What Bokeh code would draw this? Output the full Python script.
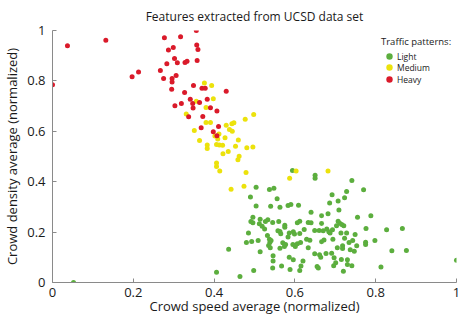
from bokeh.plotting import figure
from bokeh.models import Range1d, Legend, LegendItem, ColumnDataSource
from bokeh.embed import file_html
from bokeh.resources import INLINE

# Heavy traffic (red)
heavy_speed = [0.037, 0.132, 0.000, 0.356, 0.277, 0.317, 0.357, 0.360, 0.287, 0.299,
               0.302, 0.309, 0.283, 0.328, 0.333, 0.358, 0.267, 0.197, 0.213, 0.275,
               0.296, 0.296, 0.306, 0.295, 0.327, 0.349, 0.370, 0.378, 0.430, 0.341,
               0.383, 0.319, 0.303, 0.347, 0.364, 0.348, 0.391, 0.407, 0.337, 0.372,
               0.411, 0.368, 0.398, 0.407]
heavy_density = [0.939, 0.961, 0.785, 1.000, 0.971, 0.975, 0.942, 0.925, 0.923, 0.933,
                 0.889, 0.872, 0.868, 0.873, 0.878, 0.881, 0.841, 0.816, 0.835, 0.810,
                 0.810, 0.796, 0.821, 0.767, 0.754, 0.782, 0.771, 0.771, 0.759, 0.727,
                 0.727, 0.710, 0.701, 0.710, 0.714, 0.692, 0.693, 0.681, 0.658, 0.659,
                 0.619, 0.614, 0.598, 0.582]

# Medium traffic (yellow)
medium_speed = [0.376, 0.394, 0.398, 0.356, 0.380, 0.331, 0.380, 0.391, 0.351, 0.430,
                0.444, 0.449, 0.477, 0.498, 0.438, 0.445, 0.402, 0.412, 0.409, 0.427,
                0.364, 0.460, 0.383, 0.383, 0.406, 0.413, 0.421, 0.453, 0.481, 0.496,
                0.435, 0.422, 0.462, 0.459, 0.406, 0.406, 0.414, 0.479, 0.603, 0.587,
                0.442, 0.474, 0.682]
medium_density = [0.792, 0.782, 0.729, 0.719, 0.694, 0.669, 0.635, 0.635, 0.603, 0.624,
                  0.630, 0.634, 0.648, 0.667, 0.607, 0.600, 0.581, 0.589, 0.569, 0.574,
                  0.563, 0.565, 0.546, 0.532, 0.548, 0.546, 0.545, 0.541, 0.535, 0.538,
                  0.520, 0.511, 0.501, 0.487, 0.474, 0.460, 0.442, 0.437, 0.442, 0.414,
                  0.370, 0.382, 0.442]

# Light traffic (green)
light_speed = [0.594, 0.650, 0.650, 0.504, 0.537, 0.548, 0.490, 0.556, 0.504, 0.540,
               0.563, 0.583, 0.590, 0.609, 0.686, 0.640, 0.666, 0.682, 0.496, 0.514,
               0.491, 0.496, 0.512, 0.527, 0.533, 0.545, 0.560, 0.519, 0.525, 0.575,
               0.606, 0.612, 0.633, 0.640, 0.666, 0.575, 0.623, 0.649, 0.660, 0.670,
               0.679, 0.684, 0.485, 0.532, 0.558, 0.563, 0.565, 0.586, 0.596, 0.599,
               0.583, 0.612, 0.629, 0.637, 0.537, 0.541, 0.480, 0.493, 0.509, 0.538,
               0.570, 0.577, 0.595, 0.606, 0.614, 0.601, 0.666, 0.672, 0.436, 0.514,
               0.535, 0.539, 0.563, 0.574, 0.633, 0.649, 0.661, 0.677, 0.546, 0.546,
               0.586, 0.596, 0.620, 0.615, 0.612, 0.567, 0.588, 0.655, 0.658, 0.545,
               0.498, 0.406, 0.464, 0.052,
               0.741, 0.770, 0.692, 0.728, 0.723, 0.707, 0.709, 0.755, 0.788, 0.707,
               0.711, 0.716, 0.721, 0.703, 0.693, 0.687, 0.714, 0.728, 0.749, 0.776,
               0.827, 0.866, 0.694, 0.723, 0.734, 0.743, 0.753, 0.775, 0.775, 0.798,
               0.705, 0.718, 0.718, 0.737, 0.747, 0.691, 0.697, 0.715, 0.730, 0.701,
               0.696, 0.730, 0.741, 0.720, 0.840, 0.876, 0.813, 1.000, 0.664]
light_density = [0.444, 0.426, 0.414, 0.378, 0.369, 0.374, 0.339, 0.332, 0.304, 0.303,
                 0.299, 0.306, 0.310, 0.307, 0.315, 0.279, 0.265, 0.273, 0.259, 0.251,
                 0.242, 0.237, 0.233, 0.242, 0.249, 0.238, 0.242, 0.223, 0.212, 0.227,
                 0.237, 0.243, 0.238, 0.237, 0.234, 0.219, 0.210, 0.206, 0.206, 0.205,
                 0.212, 0.201, 0.196, 0.187, 0.205, 0.202, 0.193, 0.196, 0.201, 0.192,
                 0.181, 0.194, 0.172, 0.168, 0.172, 0.167, 0.159, 0.163, 0.167, 0.159,
                 0.158, 0.151, 0.151, 0.154, 0.159, 0.143, 0.162, 0.169, 0.132, 0.122,
                 0.147, 0.138, 0.136, 0.143, 0.138, 0.114, 0.110, 0.115, 0.106, 0.085,
                 0.100, 0.090, 0.085, 0.065, 0.048, 0.065, 0.052, 0.063, 0.058, 0.058,
                 0.048, 0.041, 0.024, 0.000,
                 0.405, 0.368, 0.348, 0.361, 0.336, 0.323, 0.288, 0.259, 0.265, 0.243,
                 0.235, 0.230, 0.225, 0.225, 0.209, 0.196, 0.196, 0.196, 0.190, 0.214,
                 0.209, 0.214, 0.172, 0.176, 0.159, 0.167, 0.146, 0.160, 0.151, 0.167,
                 0.138, 0.146, 0.135, 0.130, 0.124, 0.116, 0.098, 0.091, 0.090, 0.078,
                 0.066, 0.071, 0.066, 0.045, 0.126, 0.127, 0.062, 0.088, 0.100]

class_names = ["Light", "Medium", "Heavy"]
class_colors = ["#5cae3e", "#ece20c", "#da1a2a"]
legend_title = "Traffic patterns:"
chart_title = "Features extracted from UCSD data set"

x_ticks = [0, 0.2, 0.4, 0.6, 0.8, 1]
y_ticks = [0, 0.2, 0.4, 0.6, 0.8, 1]

FONT = "Open Sans"
AXIS_COLOR = "#8a8a8a"
TEXT_COLOR = "#1a1a1a"

p = figure(width=474, height=324, output_backend="svg", toolbar_location=None,
           x_range=Range1d(0, 1), y_range=Range1d(0, 1),
           min_border_left=51, min_border_right=18, min_border_top=30, min_border_bottom=42,
           title=chart_title)
p.title.align = "center"
p.title.vertical_align = "middle"
p.title.text_font = FONT
p.title.text_font_size = "12px"
p.title.text_font_style = "normal"
p.title.text_color = TEXT_COLOR
p.outline_line_color = None
p.grid.visible = False

p.xaxis.ticker = x_ticks
p.yaxis.ticker = y_ticks
p.xaxis.major_label_overrides = {0: "0", 1: "1"}
p.yaxis.major_label_overrides = {0: "0", 1: "1"}
for ax in (p.xaxis, p.yaxis):
    ax.axis_line_color = AXIS_COLOR
    ax.major_tick_line_color = AXIS_COLOR
    ax.major_tick_in = 4
    ax.major_tick_out = 0
    ax.minor_tick_line_color = None
    ax.major_label_text_font = FONT
    ax.major_label_text_font_size = "13px"
    ax.major_label_text_color = TEXT_COLOR
    ax.axis_label_text_font = FONT
    ax.axis_label_text_font_size = "13px"
    ax.axis_label_text_font_style = "normal"
    ax.axis_label_text_color = TEXT_COLOR
p.xaxis.axis_label = "Crowd speed average (normalized)"
p.yaxis.axis_label = "Crowd density average (normalized)"
p.xaxis.major_label_standoff = 5
p.yaxis.major_label_standoff = 7
p.xaxis.axis_label_standoff = -3
p.yaxis.axis_label_standoff = 3

series = [(light_speed, light_density), (medium_speed, medium_density), (heavy_speed, heavy_density)]
renderers = []
for (xs, ys), color in zip(series, class_colors):
    src = ColumnDataSource(dict(x=xs, y=ys))
    r = p.scatter("x", "y", source=src, size=5, fill_color=color, line_color=None)
    renderers.append(r)

# one legend per entry so the rows can sit closer than the glyph box
legend_bottoms = [218, 207, 195]
for i, (name, r) in enumerate(zip(class_names, renderers)):
    lg = Legend(items=[LegendItem(label=name, renderers=[r])],
                location=(329, legend_bottoms[i]),
                glyph_width=16, glyph_height=16, label_height=16,
                label_standoff=0, padding=0, margin=0, spacing=0,
                border_line_color=None, background_fill_alpha=0,
                label_text_font=FONT, label_text_font_size="8.5px",
                label_text_color=TEXT_COLOR)
    if i == 0:
        lg.title = legend_title
        lg.title_text_font = FONT
        lg.title_text_font_size = "9.5px"
        lg.title_text_font_style = "normal"
        lg.title_text_color = TEXT_COLOR
        lg.title_standoff = 0
    p.add_layout(lg)

open("out.html", "w").write(file_html(p, INLINE))
